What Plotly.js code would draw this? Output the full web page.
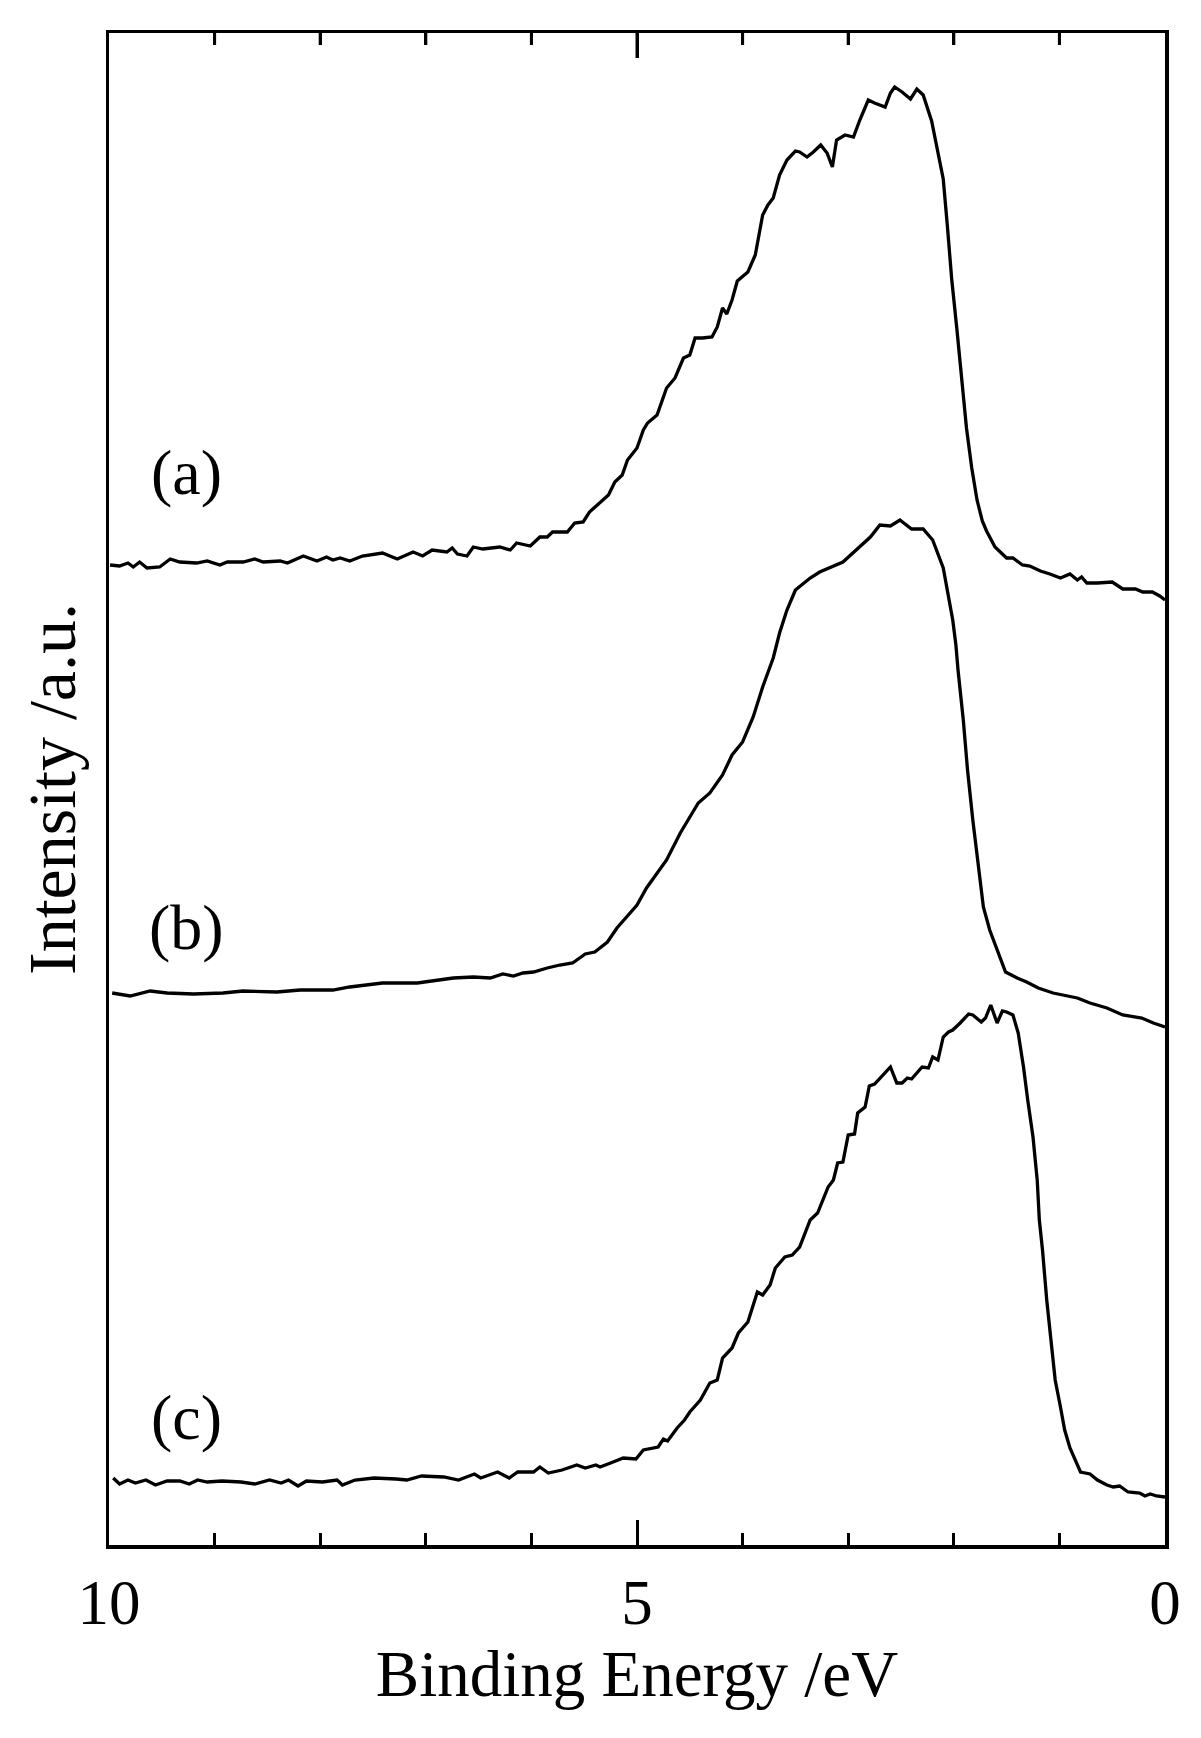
<!DOCTYPE html>
<html>
<head>
<meta charset="utf-8">
<script src="https://cdn.plot.ly/plotly-3.0.1.min.js"></script>
<style>
  html, body { margin: 0; padding: 0; background: #ffffff; }
  #chart { width: 1201px; height: 1738px; }
</style>
</head>
<body>
<div id="chart"></div>
<script>
// Binding energy (eV) and intensity (a.u., curves vertically offset as in the figure)
const energyA = [9.99,9.90,9.82,9.77,9.71,9.64,9.52,9.42,9.33,9.17,
  9.07,8.95,8.88,8.73,8.62,8.54,8.38,8.31,8.16,8.03,
  7.94,7.88,7.81,7.72,7.60,7.41,7.27,7.12,7.03,6.94,
  6.80,6.75,6.70,6.61,6.55,6.46,6.30,6.20,6.14,6.01,
  5.92,5.85,5.80,5.66,5.59,5.51,5.45,5.35,5.27,5.21,
  5.14,5.09,5.00,4.94,4.90,4.81,4.72,4.64,4.56,4.50,
  4.45,4.38,4.29,4.24,4.19,4.15,4.10,4.05,3.95,3.88,
  3.84,3.81,3.76,3.71,3.65,3.58,3.50,3.46,3.39,3.33,
  3.26,3.20,3.15,3.11,3.03,2.95,2.89,2.81,2.75,2.65,
  2.60,2.56,2.49,2.41,2.35,2.29,2.21,2.16,2.10,2.06,
  2.02,1.97,1.92,1.88,1.83,1.78,1.73,1.69,1.61,1.50,
  1.44,1.35,1.28,1.18,1.09,0.99,0.90,0.83,0.79,0.74,
  0.64,0.50,0.40,0.28,0.21,0.12,0.05,0.00];
const intensityA = [98.0,97.9,98.2,97.8,98.3,97.7,97.8,98.6,98.3,98.2,
  98.4,98.0,98.3,98.3,98.6,98.3,98.4,98.2,98.9,98.4,
  98.8,98.5,98.7,98.4,98.9,99.2,98.6,99.3,98.9,99.5,
  99.3,99.7,99.1,98.9,99.8,99.6,99.8,99.5,100.2,99.9,
  100.8,100.8,101.3,101.3,102.2,102.3,103.3,104.3,105.0,106.3,
  107.0,108.5,109.7,111.5,112.2,113.0,115.7,116.7,118.7,119.0,
  120.7,120.7,120.8,121.8,123.7,123.1,124.5,126.4,127.3,129.0,
  131.2,133.0,134.0,134.7,137.0,138.5,139.4,139.3,138.8,139.3,
  140.0,139.2,137.8,140.5,141.0,140.8,142.5,144.5,144.2,143.8,
  145.2,145.8,145.3,144.6,145.6,145.0,142.4,139.6,136.6,131.8,
  126.6,121.5,116.0,111.7,107.7,104.5,102.4,101.4,99.8,98.7,
  98.7,98.0,97.9,97.4,97.1,96.7,97.1,96.5,96.8,96.2,
  96.2,96.3,95.6,95.6,95.3,95.3,94.9,94.5];

const energyB = [9.97,9.80,9.61,9.45,9.20,8.92,8.73,8.41,8.19,7.88,
  7.72,7.41,7.08,6.93,6.74,6.55,6.39,6.27,6.17,6.08,
  5.98,5.85,5.73,5.61,5.49,5.40,5.28,5.19,5.00,4.91,
  4.72,4.59,4.42,4.31,4.19,4.10,4.00,3.90,3.81,3.71,
  3.65,3.58,3.50,3.36,3.27,3.05,2.95,2.79,2.70,2.60,
  2.51,2.40,2.29,2.20,2.10,2.04,2.01,1.98,1.96,1.91,
  1.87,1.82,1.77,1.72,1.66,1.58,1.51,1.40,1.31,1.20,
  1.06,0.83,0.71,0.55,0.40,0.22,0.11,0.00];
const intensityB = [55.2,54.9,55.4,55.2,55.1,55.2,55.4,55.3,55.5,55.5,
  55.8,56.2,56.2,56.4,56.7,56.8,56.7,57.1,56.9,57.2,
  57.3,57.7,58.0,58.2,59.1,59.3,60.3,61.7,64.0,65.7,
  68.5,71.2,74.2,75.2,77.0,79.0,80.3,82.8,85.8,88.7,
  91.2,93.5,95.5,96.7,97.3,98.3,99.3,100.8,102.0,101.9,
  102.5,101.6,101.6,100.5,97.7,94.5,92.5,90.0,87.5,82.5,
  77.5,72.5,68.2,63.8,61.5,59.2,57.3,56.7,56.3,55.7,
  55.2,54.7,54.2,53.7,53.0,52.7,52.2,51.8];

const energyC = [9.96,9.90,9.82,9.75,9.65,9.56,9.45,9.33,9.24,9.16,
  9.07,8.93,8.75,8.62,8.48,8.37,8.30,8.21,8.13,7.98,
  7.84,7.79,7.67,7.49,7.28,7.18,7.04,6.83,6.69,6.54,
  6.48,6.32,6.21,6.13,5.98,5.92,5.84,5.71,5.57,5.49,
  5.39,5.35,5.25,5.13,5.01,4.94,4.80,4.75,4.71,4.62,
  4.55,4.50,4.40,4.31,4.24,4.19,4.10,4.04,3.95,3.86,
  3.81,3.74,3.69,3.60,3.53,3.46,3.36,3.29,3.19,3.14,
  3.10,3.05,3.00,2.94,2.91,2.84,2.80,2.75,2.60,2.54,
  2.49,2.44,2.40,2.30,2.24,2.20,2.15,2.10,2.05,2.01,
  1.94,1.86,1.82,1.74,1.70,1.65,1.59,1.54,1.50,1.44,
  1.39,1.34,1.30,1.25,1.21,1.19,1.16,1.12,1.07,1.04,
  0.99,0.95,0.90,0.85,0.80,0.71,0.64,0.55,0.49,0.43,
  0.35,0.24,0.19,0.14,0.08,0.00];
const intensityC = [6.7,6.1,6.5,6.2,6.5,6.0,6.4,6.4,6.1,6.5,
  6.3,6.4,6.3,6.1,6.5,6.2,6.5,5.9,6.4,6.3,
  6.5,6.0,6.5,6.7,6.6,6.5,6.9,6.8,6.5,7.1,
  6.7,7.3,6.7,7.3,7.3,7.8,7.2,7.5,8.0,7.7,
  8.0,7.8,8.2,8.7,8.6,9.5,9.8,10.6,10.4,11.7,
  12.5,13.3,14.5,16.2,16.5,18.7,19.7,21.2,22.3,25.3,
  25.0,26.0,27.7,28.8,29.0,29.8,32.5,33.2,35.8,36.5,
  38.2,38.3,41.0,41.1,43.2,43.8,45.9,46.1,47.8,46.2,
  46.2,46.7,46.6,47.8,47.7,48.8,48.5,50.8,51.3,51.5,
  52.2,53.1,53.0,52.3,52.7,54.0,52.2,53.4,53.3,53.0,
  51.2,47.8,44.5,40.8,36.5,32.5,29.5,24.5,19.5,16.5,
  13.8,11.5,9.7,8.5,7.3,7.1,6.5,6.0,5.8,5.9,
  5.3,5.2,4.9,5.1,4.9,4.8];

const curveLabels = ['(a)', '(b)', '(c)'];
const labelEnergy = [9.27, 9.27, 9.27];
const labelIntensity = [107.3, 61.8, 12.8];
const xTickVals = [10, 5, 0];
const xTickText = ['10', '5', '0'];
const topMajorVals = [5];
const topMinorVals = [9, 8, 7, 6, 4, 3, 2, 1];

const FONT = 'Liberation Serif, "Times New Roman", Times, serif';
const PLOT_H = 1738 - 33 - 193;   // plot-area height in px (for tick lengths)
const MAJOR_LEN = 25, MINOR_LEN = 12;

function curve(x, y, name) {
  return {
    type: 'scatter', mode: 'lines', name: name,
    x: x, y: y,
    line: { color: '#000', width: 3.3 },
    hoverinfo: 'skip'
  };
}

const data = [
  curve(energyA, intensityA, '(a)'),
  curve(energyB, intensityB, '(b)'),
  curve(energyC, intensityC, '(c)')
];

const annotations = curveLabels.map((t, i) => ({
  x: labelEnergy[i], y: labelIntensity[i], xref: 'x', yref: 'y',
  text: t, showarrow: false, xanchor: 'center', yanchor: 'middle',
  font: { family: FONT, size: 64, color: '#000' }
}));

// inward tick marks along the top frame edge, placed on the x scale
function topTick(v, len) {
  return {
    type: 'line', xref: 'x', yref: 'paper',
    x0: v, x1: v, y0: 1, y1: 1 - len / PLOT_H,
    line: { color: '#000', width: 3 }, layer: 'above'
  };
}
const shapes = topMajorVals.map(v => topTick(v, MAJOR_LEN))
  .concat(topMinorVals.map(v => topTick(v, MINOR_LEN)));

const layout = {
  width: 1201, height: 1738,
  margin: { l: 109, r: 36, t: 33, b: 193 },
  showlegend: false,
  font: { family: FONT, color: '#000' },
  xaxis: {
    range: [10, 0],
    tickmode: 'array', tickvals: xTickVals, ticktext: xTickText,
    ticks: 'inside', ticklen: MAJOR_LEN, tickwidth: 3, tickcolor: '#000',
    minor: { dtick: 1, ticks: 'inside', ticklen: MINOR_LEN, tickwidth: 3, tickcolor: '#000' },
    showline: true, linewidth: 3.5, linecolor: '#000', mirror: 'allticks',
    showgrid: false, zeroline: false,
    tickfont: { family: FONT, size: 63, color: '#000' },
    title: { text: 'Binding Energy /eV', font: { family: FONT, size: 65, color: '#000' }, standoff: 12 }
  },
  yaxis: {
    range: [0, 151.2],
    ticks: '', showticklabels: false,
    showline: true, linewidth: 3.5, linecolor: '#000', mirror: true,
    showgrid: false, zeroline: false,
    title: { text: 'Intensity /a.u.', font: { family: FONT, size: 68, color: '#000' }, standoff: 8 }
  },
  annotations: annotations,
  shapes: shapes
};

Plotly.newPlot('chart', data, layout, { displayModeBar: false, staticPlot: true });
</script>
</body>
</html>
